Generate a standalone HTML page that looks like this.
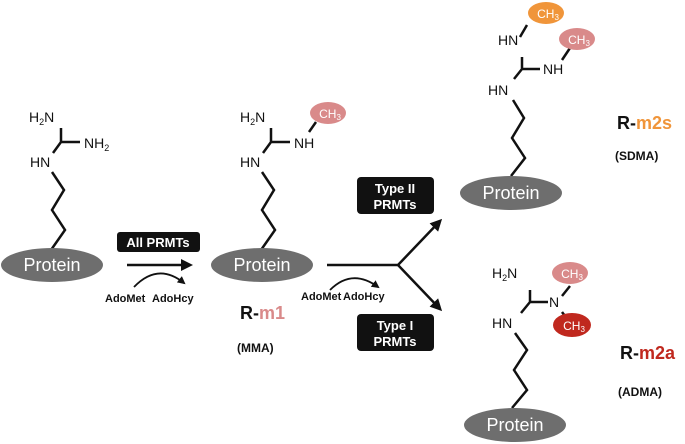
<!DOCTYPE html>
<html><head><meta charset="utf-8"><style>
html,body{margin:0;padding:0;background:#fff;}
svg{display:block;font-family:"Liberation Sans",sans-serif;}
</style></head><body>
<svg width="685" height="444" viewBox="0 0 685 444" xmlns="http://www.w3.org/2000/svg">
<defs>
<marker id="ah" markerWidth="8" markerHeight="8" refX="6" refY="4" orient="auto" markerUnits="userSpaceOnUse">
<path d="M0,0 L8,4 L0,8 Z" fill="#111"/></marker>
<marker id="ah2" markerWidth="12" markerHeight="12" refX="9" refY="6" orient="auto" markerUnits="userSpaceOnUse">
<path d="M0,0 L12,6 L0,12 Z" fill="#111"/></marker>
</defs>
<g fill="none" stroke="#111" stroke-width="2.5">
<!-- mol 1 -->
<path d="M61,128 L61,142 L80,142 M61,142 L53,153"/>
<path d="M52,172 L64,190 L52,210 L65,230 L51,250"/>
<!-- mol 2 -->
<path d="M271,128 L271,142 L290,142 M271,142 L263,153 M309,132 L316,122"/>
<path d="M262,172 L274,190 L262,210 L275,230 L261,250"/>
<!-- top -->
<path d="M522,57 L522,69 L540,69 M522,69 L514,79 M520,37 L527,25 M562,60 L570,48"/>
<path d="M513,100 L524,118 L512,138 L525,158 L511,176"/>
<!-- bottom -->
<path d="M530,290 L530,302 L548,302 M530,302 L521,313 M562,296 L570,286 M562,312 L570,323"/>
<path d="M515,333 L527,350 L514,370 L527,390 L512,408"/>
<!-- arrows -->
<path d="M127,265 L190,265" marker-end="url(#ah2)"/>
<path d="M327,265 L398,265 L440,221" marker-end="url(#ah2)"/>
<path d="M398,265 L440,309" marker-end="url(#ah2)"/>
</g>
<g fill="none" stroke="#111" stroke-width="1.8">
<path d="M134,287 Q158,262 184,283" marker-end="url(#ah)"/>
<path d="M330,290 Q352,268 378,287" marker-end="url(#ah)"/>
</g>
<!-- proteins -->
<g fill="#6e6e6e">
<ellipse cx="52" cy="265" rx="51" ry="17"/>
<ellipse cx="262" cy="265" rx="51" ry="17"/>
<ellipse cx="511" cy="193" rx="51" ry="17"/>
<ellipse cx="515" cy="425" rx="51" ry="17"/>
</g>
<g fill="#fff" font-size="18" text-anchor="middle">
<text x="52" y="271">Protein</text>
<text x="262" y="271">Protein</text>
<text x="511" y="199">Protein</text>
<text x="515" y="431">Protein</text>
</g>
<!-- CH3 ellipses -->
<ellipse cx="328" cy="113" rx="18" ry="11" fill="#d98a8a"/>
<ellipse cx="546" cy="13" rx="18" ry="11" fill="#f0953a"/>
<ellipse cx="577" cy="39" rx="18" ry="11" fill="#d98a8a"/>
<ellipse cx="570" cy="273" rx="18" ry="11" fill="#d98a8a"/>
<ellipse cx="572" cy="325" rx="19" ry="12" fill="#c0281e"/>
<g fill="#fff" font-size="12" text-anchor="middle">
<text x="330" y="118">CH<tspan font-size="8" dy="2">3</tspan></text>
<text x="548" y="18">CH<tspan font-size="8" dy="2">3</tspan></text>
<text x="579" y="44">CH<tspan font-size="8" dy="2">3</tspan></text>
<text x="572" y="278">CH<tspan font-size="8" dy="2">3</tspan></text>
<text x="574" y="330">CH<tspan font-size="8" dy="2">3</tspan></text>
</g>
<!-- atom labels -->
<g fill="#111" font-size="14">
<text x="29" y="122">H<tspan font-size="9" dy="3">2</tspan><tspan dy="-3">N</tspan></text>
<text x="84" y="148">NH<tspan font-size="9" dy="3">2</tspan></text>
<text x="30" y="167">HN</text>
<text x="240" y="122">H<tspan font-size="9" dy="3">2</tspan><tspan dy="-3">N</tspan></text>
<text x="294" y="148">NH</text>
<text x="240" y="167">HN</text>
<text x="498" y="45">HN</text>
<text x="543" y="74">NH</text>
<text x="488" y="95">HN</text>
<text x="492" y="278">H<tspan font-size="9" dy="3">2</tspan><tspan dy="-3">N</tspan></text>
<text x="549" y="307">N</text>
<text x="492" y="328">HN</text>
</g>
<!-- enzyme boxes -->
<g fill="#111">
<rect x="117" y="232" width="83" height="20" rx="3"/>
<rect x="357" y="177" width="77" height="37" rx="4"/>
<rect x="357" y="314" width="77" height="37" rx="4"/>
</g>
<g fill="#fff" font-size="13" font-weight="bold" text-anchor="middle">
<text x="158" y="247">All PRMTs</text>
<text x="395" y="193">Type II</text>
<text x="395" y="209">PRMTs</text>
<text x="395" y="330">Type I</text>
<text x="395" y="346">PRMTs</text>
</g>
<g fill="#111" font-size="11" font-weight="bold">
<text x="105" y="302">AdoMet</text>
<text x="152" y="302">AdoHcy</text>
<text x="301" y="300">AdoMet</text>
<text x="343" y="300">AdoHcy</text>
</g>
<g font-size="18" font-weight="bold">
<text x="240" y="319" fill="#111">R-<tspan fill="#d98a8a">m1</tspan></text>
<text x="617" y="129" fill="#111">R-<tspan fill="#f0953a">m2s</tspan></text>
<text x="620" y="359" fill="#111">R-<tspan fill="#c0281e">m2a</tspan></text>
</g>
<g fill="#111" font-size="12" font-weight="bold">
<text x="237" y="352">(MMA)</text>
<text x="615" y="160">(SDMA)</text>
<text x="618" y="396">(ADMA)</text>
</g>
</svg>
</body></html>
